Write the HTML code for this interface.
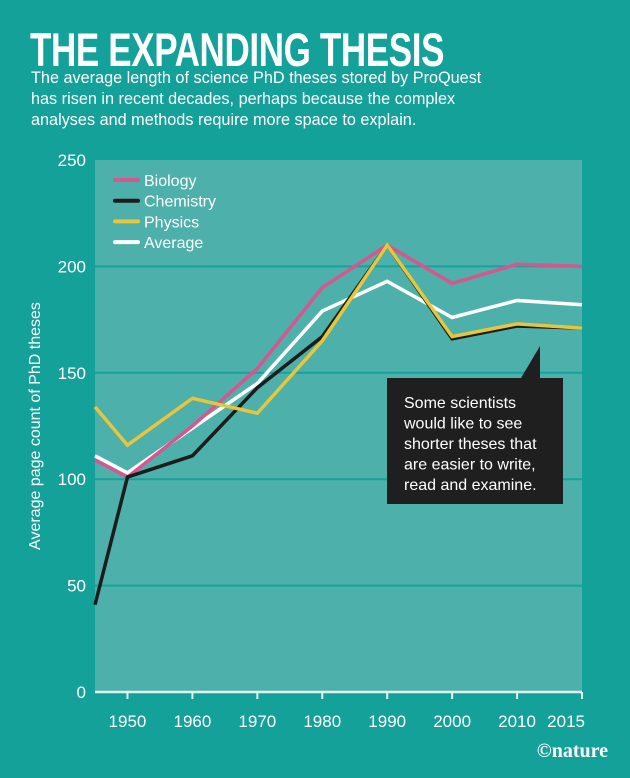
<!DOCTYPE html>
<html><head><meta charset="utf-8"><style>
body{margin:0;width:630px;height:778px;background:#13a19a;font-family:"Liberation Sans",sans-serif;overflow:hidden;position:relative}
#title{position:absolute;left:30px;top:22px;font-weight:bold;font-size:47px;color:#fff;white-space:nowrap;transform-origin:0 0;transform:scaleX(0.745);letter-spacing:-0.5px}
#sub{position:absolute;left:31px;top:67px;font-size:17px;line-height:21px;color:#fff;transform-origin:0 0;transform:scaleX(0.955);white-space:nowrap}
</style></head><body>
<div id="title">THE EXPANDING THESIS</div>
<div id="sub">The average length of science PhD theses stored by ProQuest<br>has risen in recent decades, perhaps because the complex<br>analyses and methods require more space to explain.</div>
<svg id="chart" width="630" height="778" style="position:absolute;left:0;top:0"></svg>
<script>
const years=[1945,1950,1960,1970,1980,1990,2000,2010,2015];
const biology=[109,101,125,152,190,210,192,201,200];
const chemistry=[41,101,111,143,167,210,166,172,171];
const physics=[134,116,138,131,165,210,167,173,171];
const average=[111,103,124,145,179,193,176,184,182];
const yTicks=[0,50,100,150,200,250];
const xTicks=[1950,1960,1970,1980,1990,2000,2010,2015];
const seriesNames=["Biology","Chemistry","Physics","Average"];
const seriesColors=["#d9558f","#1c1c1c","#e8c53a","#ffffff"];
const seriesData=[biology,chemistry,physics,average];
const L=95,R=582,T=160,B=692;
function slot(v){return v<=2010?(v-1940)/10:7+(v-2010)/5;}
const x=v=>L+(slot(v)-0.5)/7.5*(R-L);
const y=v=>B-v/250*(B-T);
const svg=document.getElementById('chart');
const NS='http://www.w3.org/2000/svg';
function mk(t,a,p){const e=document.createElementNS(NS,t);for(const k in a)e.setAttribute(k,a[k]);(p||svg).appendChild(e);return e;}
const bg=mk('rect',{x:L,y:T,width:R-L,height:B-T,fill:'#4eb0aa'});


yTicks.forEach(v=>{
 if(v>0&&v<250){const g=mk('line',{x1:L,x2:R,y1:y(v),y2:y(v),stroke:'#17a39b','stroke-width':2});
 
 }
 const t=mk('text',{x:86,y:y(v)+6,'text-anchor':'end',fill:'#fff','font-size':17});
 t.textContent=v;
 
 
});
const ax=mk('line',{x1:L,x2:R,y1:B,y2:B,stroke:'#dff3f1','stroke-width':2.5});


xTicks.forEach(v=>{
 mk('line',{x1:x(v),x2:x(v),y1:B,y2:B+7,stroke:'#dff3f1','stroke-width':2});
 const t=mk('text',{x:x(v),y:B+35,'text-anchor':'middle',fill:'#fff','font-size':17});
 if(v==2015){t.setAttribute('text-anchor','end');t.setAttribute('x',x(v)+3);}
 t.textContent=v;
 
 
});
const yt=mk('text',{x:0,y:0,transform:'translate(40,426) rotate(-90)','text-anchor':'middle',fill:'#fff','font-size':16});
yt.textContent='Average page count of PhD theses';


[3,0,1,2].forEach(i=>{
 const d=seriesData[i].map((v,j)=>(j?'L':'M')+x(years[j])+','+y(v)).join('');
 const p=mk('path',{d:d,fill:'none',stroke:seriesColors[i],'stroke-width':3.5,'stroke-linejoin':'miter'});
 
 
});
seriesNames.forEach((n,i)=>{
 const ly=180+i*20.7;
 mk('line',{x1:115,x2:138,y1:ly,y2:ly,stroke:seriesColors[i],'stroke-width':4,'stroke-linecap':'round'});
 const t=mk('text',{x:144,y:ly+6,fill:'#fff','font-size':16});
 t.textContent=n;
 
 
});
const box=mk('path',{d:'M387,378H521L540,346V378H563V504H387Z',fill:'#1f1f1f'});


['Some scientists','would like to see','shorter theses that','are easier to write,','read and examine.'].forEach((s,i)=>{
 const t=mk('text',{x:404,y:408+i*20.5,fill:'#fff','font-size':16});
 t.textContent=s;
 
 
});
const nt=mk('text',{x:608,y:757,'text-anchor':'end',fill:'#fff','font-size':20,'font-family':'Liberation Serif,serif','font-weight':'bold'});
nt.textContent='©nature';


</script>
</body></html>
